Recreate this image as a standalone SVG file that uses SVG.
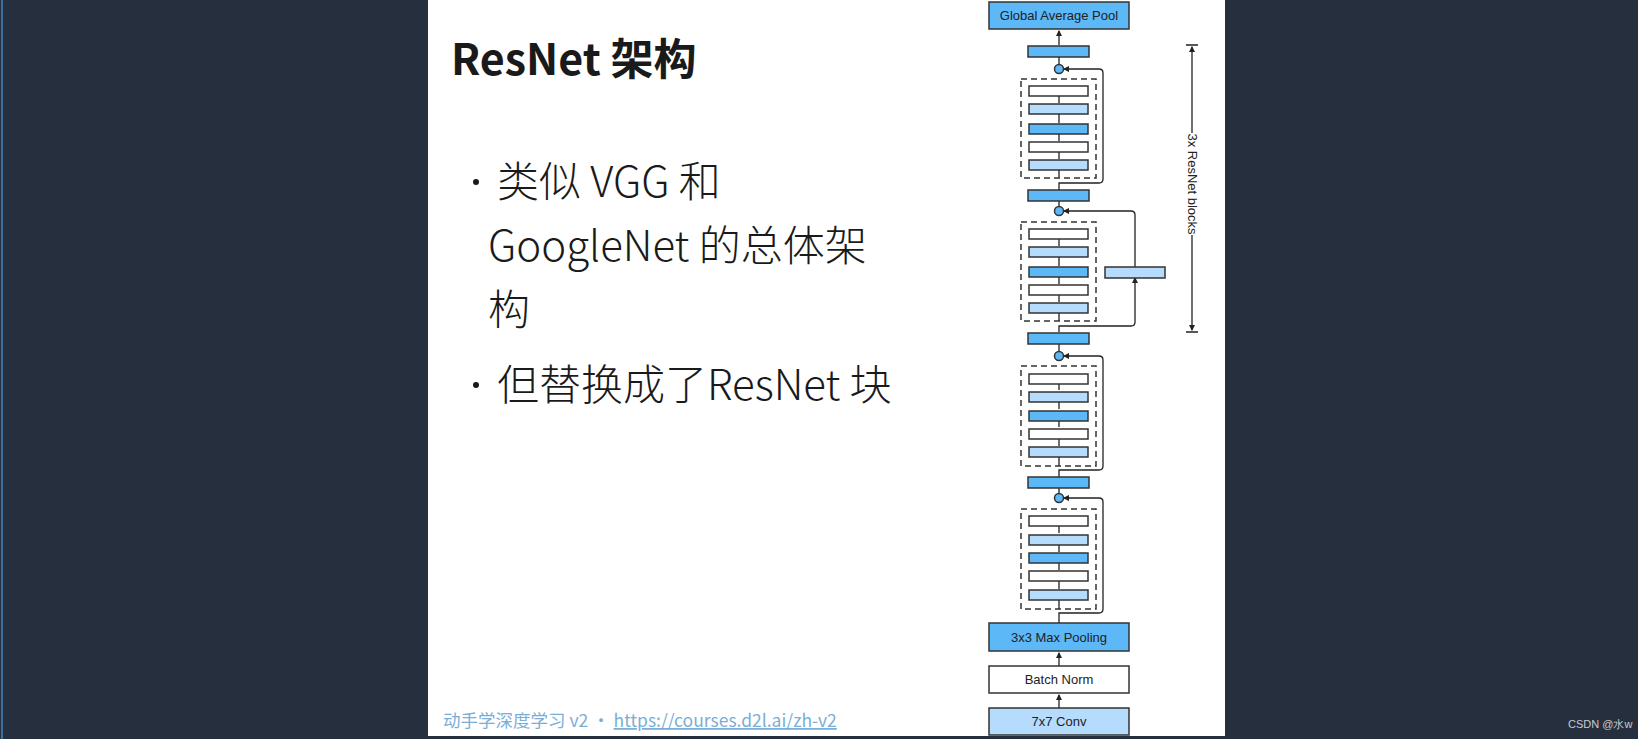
<svg xmlns="http://www.w3.org/2000/svg" width="1638" height="739" viewBox="0 0 1638 739">
<defs>
<marker id="ah" viewBox="0 0 6 6" refX="5" refY="3" markerWidth="5" markerHeight="5" orient="auto"><path d="M0,0 L6,3 L0,6 z" fill="#222"/></marker>
<style>
.dk{fill:#5cb8f7;stroke:#333;stroke-width:1.5}
.lt{fill:#b5dbfd;stroke:#333;stroke-width:1.5}
.wh{fill:#fff;stroke:#333;stroke-width:1.5}
.dash{fill:none;stroke:#333;stroke-width:1.5;stroke-dasharray:6 4}
.c{fill:none;stroke:#222;stroke-width:1.3}
.lab{font-family:"Liberation Sans",Arial,sans-serif;font-size:13px;fill:#222;text-anchor:middle}
.cn{font-family:"Noto Sans CJK SC","Noto Sans",sans-serif;fill:#1a1a1a}
</style>
</defs>
<rect width="1638" height="739" fill="#262f3d"/>
<rect x="1" y="0" width="2" height="739" fill="#3a6f9e"/>
<rect x="428" y="0" width="797" height="736" fill="#fff"/>
<text class="cn" x="451" y="75" font-size="43" font-weight="bold">ResNet 架构</text>
<circle cx="476" cy="182" r="3" fill="#1a1a1a"/>
<text class="cn" x="497" y="197" font-size="42" font-weight="300">类似 VGG 和</text>
<text class="cn" x="488" y="261" font-size="42" font-weight="300">GoogleNet 的总体架</text>
<text class="cn" x="488" y="325" font-size="42" font-weight="300">构</text>
<circle cx="476" cy="385" r="3" fill="#1a1a1a"/>
<text class="cn" x="497" y="400" font-size="42" font-weight="300">但替换成了ResNet 块</text>
<text x="443" y="727" font-family="'Noto Sans CJK SC','Noto Sans',sans-serif" font-size="17.5" fill="#7aaed6">动手学深度学习 v2 • <tspan text-decoration="underline">https://courses.d2l.ai/zh-v2</tspan></text>
<text x="1568" y="728" font-family="'Liberation Sans',Arial,sans-serif" font-size="11" fill="#c8ccd2">CSDN @水w</text>

<g id="connectors">
<path class="c" d="M1059,45 V31" marker-end="url(#ah)"/>
<path class="c" d="M1059,57 V74"/>
<path class="c" d="M1059,190 V183 H1099 Q1103,183 1103,179 V73 Q1103,69 1099,69 H1064" marker-end="url(#ah)"/>
<path class="c" d="M1059,332 V326 H1131 Q1135,326 1135,322 V278" marker-end="url(#ah)"/>
<path class="c" d="M1135,267 V215 Q1135,211 1131,211 H1064" marker-end="url(#ah)"/>
<path class="c" d="M1059,201 V216"/>
<path class="c" d="M1059,344 V361"/>
<path class="c" d="M1059,477 V470 H1099 Q1103,470 1103,466 V360 Q1103,356 1099,356 H1064" marker-end="url(#ah)"/>
<path class="c" d="M1059,488 V503"/>
<path class="c" d="M1059,623 V613 H1099 Q1103,613 1103,609 V502 Q1103,498 1099,498 H1064" marker-end="url(#ah)"/>
<path class="c" d="M1059,666 V653" marker-end="url(#ah)"/>
<path class="c" d="M1059,708 V695" marker-end="url(#ah)"/>
<path class="c" d="M1059,96 V103 M1059,114 V123 M1059,134 V141 M1059,152 V159 M1059,170 V178" />
<path class="c" d="M1059,239 V246 M1059,257 V266 M1059,277 V284 M1059,295 V302 M1059,313 V321" />
<path class="c" d="M1059,384 V390 M1059,402 V409 M1059,421 V427 M1059,439 V446 M1059,457 V466" />
<path class="c" d="M1059,526 V533 M1059,545 V552 M1059,563 V570 M1059,581 V589 M1059,600 V609" />
<path class="c" d="M1192,133 V47" marker-end="url(#ah)"/>
<path class="c" d="M1192,235 V330" marker-end="url(#ah)"/>
<path d="M1186,45 H1198 M1186,332 H1198" stroke="#222" stroke-width="1.5"/>
</g>
<text class="lab" transform="translate(1188,184) rotate(90)" font-size="12">3x ResNet blocks</text>

<g id="gap"><rect class="dk" x="989" y="2" width="140" height="27"/><text class="lab" x="1059" y="20">Global Average Pool</text></g>
<g id="d1"><rect class="dk" x="1028" y="46" width="61" height="11"/></g>
<g id="p1"><circle class="dk" cx="1059" cy="69" r="4.5"/></g>
<g id="b1"><rect class="dash" x="1021" y="79" width="75" height="99"/>
<rect class="wh" x="1029" y="86" width="59" height="10"/><rect class="lt" x="1029" y="104" width="59" height="10"/><rect class="dk" x="1029" y="124" width="59" height="10"/><rect class="wh" x="1029" y="142" width="59" height="10"/><rect class="lt" x="1029" y="160" width="59" height="10"/></g>
<g id="d2"><rect class="dk" x="1028" y="190" width="61" height="11"/></g>
<g id="p2"><circle class="dk" cx="1059" cy="211" r="4.5"/></g>
<g id="b2"><rect class="dash" x="1021" y="222" width="75" height="99"/>
<rect class="wh" x="1029" y="229" width="59" height="10"/><rect class="lt" x="1029" y="247" width="59" height="10"/><rect class="dk" x="1029" y="267" width="59" height="10"/><rect class="wh" x="1029" y="285" width="59" height="10"/><rect class="lt" x="1029" y="303" width="59" height="10"/></g>
<g id="side"><rect class="lt" x="1105" y="267" width="60" height="11"/></g>
<g id="d3"><rect class="dk" x="1028" y="333" width="61" height="11"/></g>
<g id="p3"><circle class="dk" cx="1059" cy="356" r="4.5"/></g>
<g id="b3"><rect class="dash" x="1021" y="366" width="75" height="100"/>
<rect class="wh" x="1029" y="374" width="59" height="10"/><rect class="lt" x="1029" y="392" width="59" height="10"/><rect class="dk" x="1029" y="411" width="59" height="10"/><rect class="wh" x="1029" y="429" width="59" height="10"/><rect class="lt" x="1029" y="447" width="59" height="10"/></g>
<g id="d4"><rect class="dk" x="1028" y="477" width="61" height="11"/></g>
<g id="p4"><circle class="dk" cx="1059" cy="498" r="4.5"/></g>
<g id="b4"><rect class="dash" x="1021" y="509" width="75" height="100"/>
<rect class="wh" x="1029" y="516" width="59" height="10"/><rect class="lt" x="1029" y="535" width="59" height="10"/><rect class="dk" x="1029" y="553" width="59" height="10"/><rect class="wh" x="1029" y="571" width="59" height="10"/><rect class="lt" x="1029" y="590" width="59" height="10"/></g>
<g id="maxpool"><rect class="dk" x="989" y="623" width="140" height="28"/><text class="lab" x="1059" y="642">3x3 Max Pooling</text></g>
<g id="bn"><rect class="wh" x="989" y="666" width="140" height="27"/><text class="lab" x="1059" y="684">Batch Norm</text></g>
<g id="conv"><rect class="lt" x="989" y="708" width="140" height="27"/><text class="lab" x="1059" y="726">7x7 Conv</text></g>
</svg>
